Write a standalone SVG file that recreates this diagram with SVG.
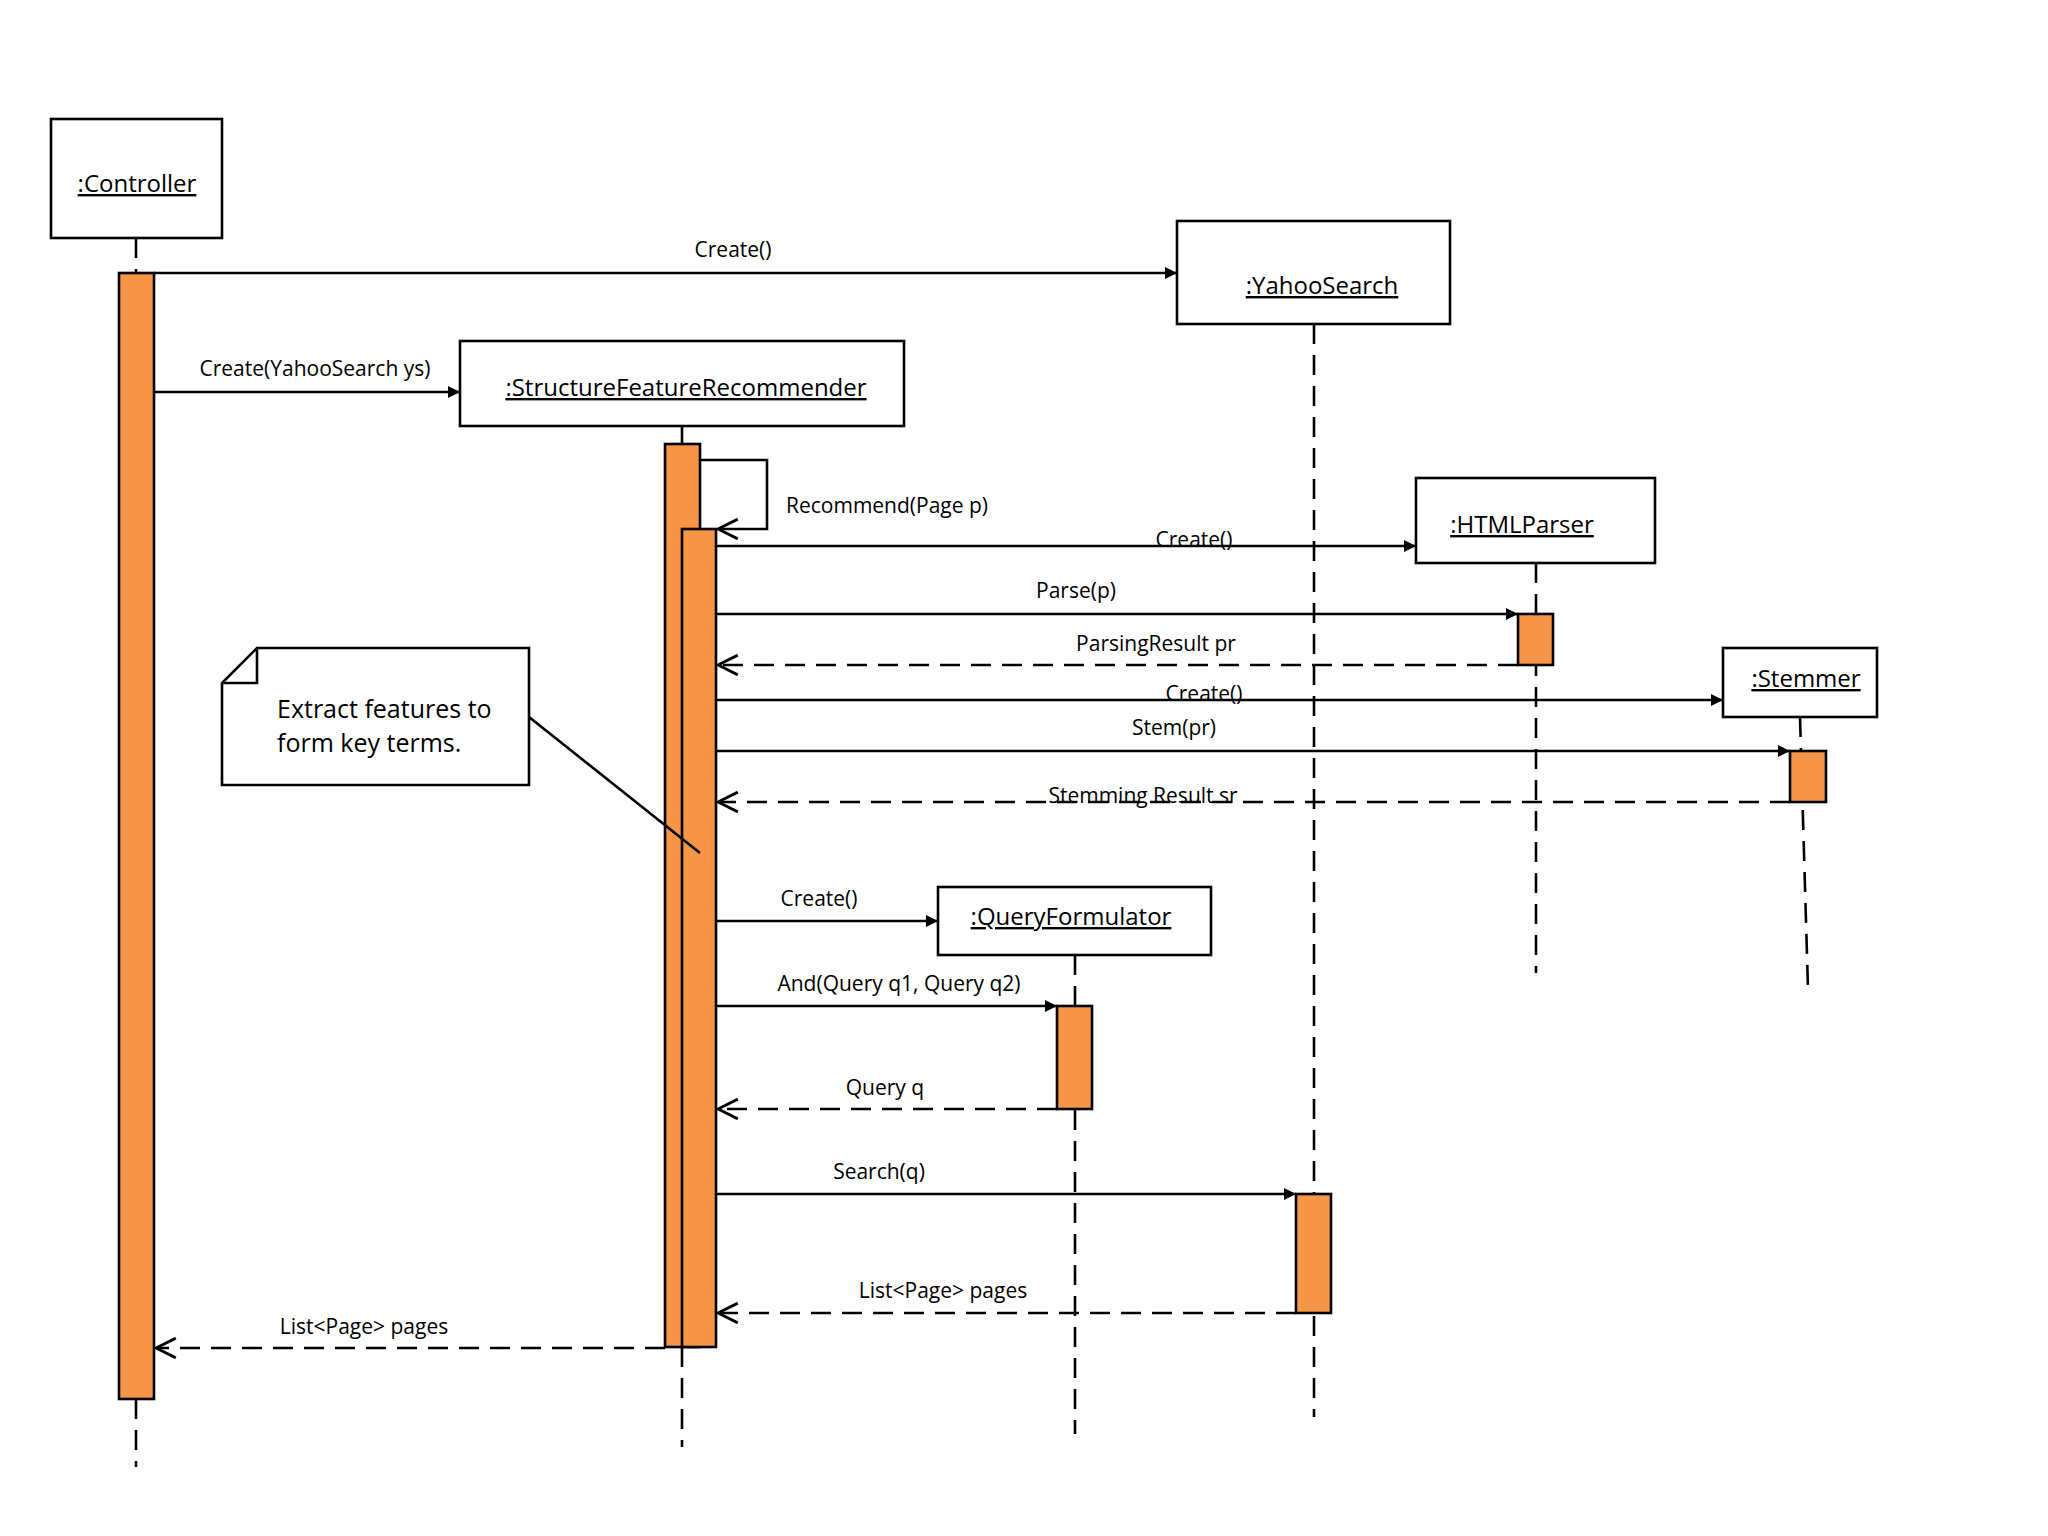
<svg xmlns="http://www.w3.org/2000/svg" width="2048" height="1536" viewBox="0 0 2048 1536">
<defs>
<style>
.box{fill:#fff;stroke:#000;stroke-width:2.6}
.act{fill:#f79646;stroke:#000;stroke-width:2.6}
.ll{stroke:#000;stroke-width:2.6;stroke-dasharray:20 11;fill:none}
.msg{stroke:#000;stroke-width:2.6;fill:none}
.ret{stroke:#000;stroke-width:2.6;fill:none;stroke-dasharray:20 11}
.t{font-family:"Open Sans","Noto Sans",sans-serif;font-size:21px;fill:#000}
.n{font-family:"Open Sans","Noto Sans",sans-serif;font-size:24px;fill:#000;text-decoration:underline;text-anchor:middle}
.nt{font-family:"Open Sans","Noto Sans",sans-serif;font-size:25px;fill:#000}
</style>
<marker id="f" viewBox="0 0 12 12" refX="12" refY="6" markerWidth="12" markerHeight="12" markerUnits="userSpaceOnUse" orient="auto"><path d="M0,0L12,6L0,12Z" fill="#000"/></marker>
<marker id="o" viewBox="0 0 20 20" refX="19" refY="10" markerWidth="22" markerHeight="22" markerUnits="userSpaceOnUse" orient="auto"><path d="M1,1L19,10L1,19" fill="none" stroke="#000" stroke-width="2.6"/></marker>
</defs>
<rect width="2048" height="1536" fill="#fff"/>
<g id="lifelines">
<path class="ll" d="M136,238V273M136,1399V1467"/>
<path class="ll" d="M1314,324V1417"/>
<path class="ll" d="M682,426V444M682,1347V1447"/>
<path class="ll" d="M1536,563V973"/>
<path class="ll" d="M1800,717L1808,989"/>
<path class="ll" d="M1075,955V1434"/>
</g>
<g id="controller"><rect class="box" x="51" y="119" width="171" height="119"/><text class="n" x="137" y="192">:Controller</text><rect class="act" x="119" y="273" width="35" height="1126"/></g>
<g id="yahoosearch"><rect class="box" x="1177" y="221" width="273" height="103"/><text class="n" x="1322" y="294">:YahooSearch</text><rect class="act" x="1296" y="1194" width="35" height="119"/></g>
<g id="sfr"><rect class="box" x="460" y="341" width="444" height="85"/><text class="n" x="686" y="396">:StructureFeatureRecommender</text><rect class="act" x="665" y="444" width="35" height="903"/><rect class="act" x="682" y="529" width="34" height="818"/></g>
<g id="htmlparser"><rect class="box" x="1416" y="478" width="239" height="85"/><text class="n" x="1522" y="533">:HTMLParser</text><rect class="act" x="1518" y="614" width="35" height="51"/></g>
<g id="stemmer"><rect class="box" x="1723" y="648" width="154" height="69"/><text class="n" x="1806" y="687">:Stemmer</text><rect class="act" x="1790" y="751" width="36" height="51"/></g>
<g id="queryformulator"><rect class="box" x="938" y="887" width="273" height="68"/><text class="n" x="1071" y="925">:QueryFormulator</text><rect class="act" x="1057" y="1006" width="35" height="103"/></g>
<g id="note"><path class="box" d="M257,648H529V785H222V683Z"/><path class="msg" d="M257,648V683H222"/><text class="nt" x="277" y="718">Extract features to</text><text class="nt" x="277" y="752">form key terms.</text></g>
<g id="connectors">
<path class="msg" d="M529,717L700,853"/>
<path class="msg" marker-end="url(#f)" d="M154,273H1177"/>
<path class="msg" marker-end="url(#f)" d="M154,392H460"/>
<path class="msg" marker-end="url(#o)" d="M700,460H767V529H718"/>
<path class="msg" marker-end="url(#f)" d="M716,546H1416"/>
<path class="msg" marker-end="url(#f)" d="M716,614H1518"/>
<path class="ret" marker-end="url(#o)" d="M1518,665H718"/>
<path class="msg" marker-end="url(#f)" d="M716,700H1723"/>
<path class="msg" marker-end="url(#f)" d="M716,751H1790"/>
<path class="ret" marker-end="url(#o)" d="M1790,802H718"/>
<path class="msg" marker-end="url(#f)" d="M716,921H938"/>
<path class="msg" marker-end="url(#f)" d="M716,1006H1057"/>
<path class="ret" marker-end="url(#o)" d="M1057,1109H718"/>
<path class="msg" marker-end="url(#f)" d="M716,1194H1296"/>
<path class="ret" marker-end="url(#o)" d="M1296,1313H718"/>
<path class="ret" marker-end="url(#o)" d="M665,1348H156"/>
</g>
<g id="labels" text-anchor="middle">
<text class="t" x="733" y="257">Create()</text>
<text class="t" x="315" y="376">Create(YahooSearch ys)</text>
<text class="t" x="786" y="513" text-anchor="start">Recommend(Page p)</text>
<text class="t" x="1194" y="547">Create()</text>
<text class="t" x="1076" y="598">Parse(p)</text>
<text class="t" x="1156" y="651">ParsingResult pr</text>
<text class="t" x="1204" y="701">Create()</text>
<text class="t" x="1174" y="735">Stem(pr)</text>
<text class="t" x="1143" y="803">Stemming Result sr</text>
<text class="t" x="819" y="906">Create()</text>
<text class="t" x="899" y="991">And(Query q1, Query q2)</text>
<text class="t" x="885" y="1095">Query q</text>
<text class="t" x="879" y="1179">Search(q)</text>
<text class="t" x="943" y="1298">List&lt;Page&gt; pages</text>
<text class="t" x="364" y="1334">List&lt;Page&gt; pages</text>
</g>
</svg>
